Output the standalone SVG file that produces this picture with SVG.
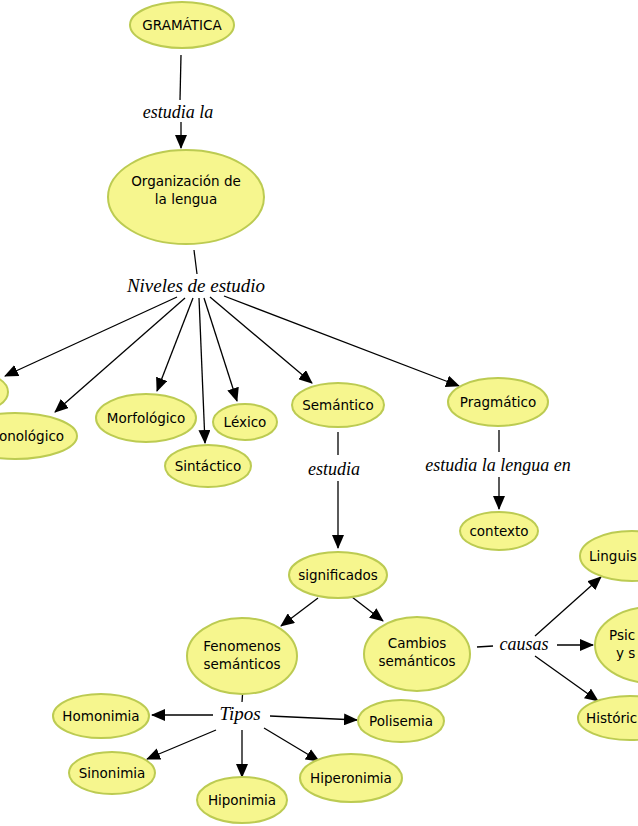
<svg xmlns="http://www.w3.org/2000/svg" width="638" height="826" viewBox="0 0 638 826">
<defs>
<marker id="ah" markerUnits="userSpaceOnUse" markerWidth="14" markerHeight="12" refX="13" refY="6" orient="auto">
<path d="M0,0 L14,6 L0,12 Z" fill="#000"/>
</marker>
<style>
.n ellipse{fill:#f6f68e;stroke:#bccb52;stroke-width:2}
.n text{font-family:"DejaVu Sans","Liberation Sans",sans-serif;font-size:13.5px;fill:#000;text-anchor:middle}
.c line,.c path{stroke:#000;stroke-width:1.3;fill:none}
.c .a{marker-end:url(#ah)}
.l{font-family:"Liberation Serif","DejaVu Serif",serif;font-style:italic;font-size:18px;fill:#000;text-anchor:middle}
</style>
</defs>
<rect width="638" height="826" fill="#fff"/>
<g id="connectors" class="c">
<line x1="181" y1="55" x2="180" y2="100"/>
<line class="a" x1="181" y1="122" x2="181" y2="148"/>
<line x1="194" y1="250" x2="197" y2="274"/>
<line class="a" x1="177" y1="297" x2="5" y2="376"/>
<line class="a" x1="185" y1="298" x2="55" y2="412"/>
<line class="a" x1="193" y1="298" x2="157" y2="391"/>
<line class="a" x1="199" y1="298" x2="205" y2="443"/>
<line class="a" x1="204" y1="298" x2="237" y2="401"/>
<line class="a" x1="210" y1="297" x2="312" y2="383"/>
<line class="a" x1="224" y1="296" x2="459" y2="386"/>
<line x1="338" y1="432" x2="338" y2="455"/>
<line class="a" x1="338" y1="481" x2="338" y2="548"/>
<line x1="499" y1="430" x2="499" y2="452"/>
<line class="a" x1="499" y1="477" x2="499" y2="509"/>
<line class="a" x1="318" y1="598" x2="281" y2="626"/>
<line class="a" x1="352" y1="597" x2="383" y2="621"/>
<line x1="477" y1="647" x2="493" y2="646"/>
<line class="a" x1="535" y1="636" x2="601" y2="577"/>
<line class="a" x1="557" y1="645" x2="593" y2="645"/>
<line class="a" x1="535" y1="656" x2="598" y2="701"/>
<line x1="243" y1="688" x2="242" y2="702"/>
<line class="a" x1="213" y1="715" x2="152" y2="715"/>
<line class="a" x1="270" y1="716" x2="357" y2="720"/>
<line class="a" x1="216" y1="730" x2="147" y2="759"/>
<line class="a" x1="242" y1="730" x2="242" y2="777"/>
<line class="a" x1="264" y1="728" x2="319" y2="761"/>
</g>
<g id="labels">
<text class="l" x="178" y="118">estudia la</text>
<text class="l" x="196" y="292" style="font-size:19px">Niveles de estudio</text>
<text class="l" x="334" y="475">estudia</text>
<text class="l" x="498" y="471">estudia la lengua en</text>
<text class="l" x="524" y="650">causas</text>
<text class="l" x="240" y="720" style="font-size:19px">Tipos</text>
</g>
<g id="gramatica" class="n"><ellipse cx="182" cy="25" rx="52" ry="23"/><text x="182" y="30">GRAMÁTICA</text></g>
<g id="organizacion" class="n"><ellipse cx="186" cy="197" rx="78" ry="47"/><text x="186" y="186">Organización de</text><text x="186" y="204">la lengua</text></g>
<g id="nodo-izq" class="n"><ellipse cx="-20" cy="392" rx="28" ry="18"/></g>
<g id="fonologico" class="n"><ellipse cx="15" cy="436" rx="62" ry="23"/><text x="-1" y="441" style="text-anchor:start">onológico</text></g>
<g id="morfologico" class="n"><ellipse cx="146" cy="418" rx="50" ry="24"/><text x="146" y="423">Morfológico</text></g>
<g id="lexico" class="n"><ellipse cx="245" cy="422" rx="32" ry="18"/><text x="245" y="427">Léxico</text></g>
<g id="sintactico" class="n"><ellipse cx="208" cy="466" rx="43" ry="21"/><text x="208" y="471">Sintáctico</text></g>
<g id="semantico" class="n"><ellipse cx="338" cy="405" rx="46" ry="22"/><text x="338" y="410">Semántico</text></g>
<g id="pragmatico" class="n"><ellipse cx="498" cy="402" rx="50" ry="24"/><text x="498" y="407">Pragmático</text></g>
<g id="contexto" class="n"><ellipse cx="499" cy="531" rx="39" ry="19"/><text x="499" y="536">contexto</text></g>
<g id="significados" class="n"><ellipse cx="338" cy="575" rx="49" ry="23"/><text x="338" y="580">significados</text></g>
<g id="fenomenos" class="n"><ellipse cx="242" cy="656" rx="55" ry="38"/><text x="242" y="651">Fenomenos</text><text x="242" y="669">semánticos</text></g>
<g id="cambios" class="n"><ellipse cx="417" cy="654" rx="53" ry="37"/><text x="417" y="648">Cambios</text><text x="417" y="666">semánticos</text></g>
<g id="linguisticas" class="n"><ellipse cx="632" cy="556" rx="52" ry="25"/><text x="589" y="561" style="text-anchor:start">Linguis</text></g>
<g id="psicologicas" class="n"><ellipse cx="652" cy="645" rx="57" ry="38"/><text x="609" y="640" style="text-anchor:start">Psic</text><text x="616" y="658" style="text-anchor:start">y s</text></g>
<g id="historicas" class="n"><ellipse cx="630" cy="718" rx="52" ry="22"/><text x="586" y="723" style="text-anchor:start">Históric</text></g>
<g id="homonimia" class="n"><ellipse cx="101" cy="716" rx="48" ry="22"/><text x="101" y="721">Homonimia</text></g>
<g id="polisemia" class="n"><ellipse cx="401" cy="721" rx="43" ry="21"/><text x="401" y="726">Polisemia</text></g>
<g id="sinonimia" class="n"><ellipse cx="112" cy="773" rx="43" ry="21"/><text x="112" y="778">Sinonimia</text></g>
<g id="hiponimia" class="n"><ellipse cx="242" cy="800" rx="45" ry="23"/><text x="242" y="805">Hiponimia</text></g>
<g id="hiperonimia" class="n"><ellipse cx="351" cy="778" rx="51" ry="24"/><text x="351" y="783">Hiperonimia</text></g>
</svg>
